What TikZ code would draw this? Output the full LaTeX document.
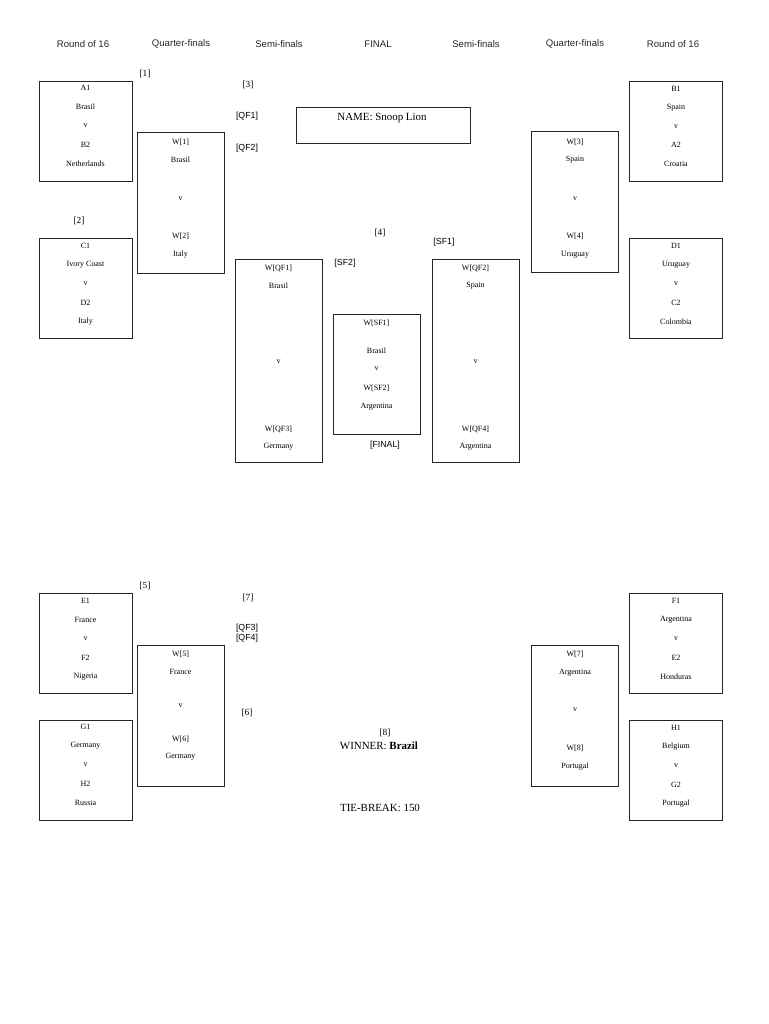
\documentclass[tikz,border=0pt]{standalone}
\usepackage{fontspec}
\setmainfont{Liberation Serif}
\setsansfont{Liberation Sans}
\usetikzlibrary{positioning}

\begin{document}
\begin{tikzpicture}[x=0.75pt, y=-0.75pt,
  r16/.style={rectangle, draw=black!85, line width=0.55pt, minimum width=69.75pt, minimum height=75pt, inner sep=0pt},
  qf/.style={rectangle, draw=black!85, line width=0.55pt, minimum width=65.25pt, minimum height=105.75pt, inner sep=0pt},
  sf/.style={rectangle, draw=black!85, line width=0.55pt, minimum width=65.25pt, minimum height=152.25pt, inner sep=0pt},
  fin/.style={rectangle, draw=black!85, line width=0.55pt, minimum width=65.25pt, minimum height=90pt, inner sep=0pt},
  team/.style={inner sep=0pt, font=\fontsize{6}{6}\selectfont},
  head/.style={inner sep=0pt, text=black!85, font=\sffamily\fontsize{7.2}{8}\selectfont},
  tag/.style={inner sep=0pt, font=\fontsize{7}{8}\selectfont},
  stag/.style={inner sep=0pt, font=\sffamily\fontsize{6.6}{7}\selectfont},
  big/.style={inner sep=0pt, font=\fontsize{8.2}{9}\selectfont}
]
  \useasboundingbox (0,0) rectangle (768,1024);

  % column headers
  \foreach \x/\t [count=\i] in {83/Round of 16, 181/Quarter-finals, 279/Semi-finals, 378/FINAL,
      476/Semi-finals, 575/Quarter-finals, 673/Round of 16}
    \node[head] (h\i) at (\x,44) {\t};

  % round of 16 boxes
  \node[r16] (a1) at (85.5,131) {};
  \node[r16] (c1) at (85.5,288) {};
  \node[r16] (b1) at (676,131) {};
  \node[r16] (d1) at (676,288) {};
  \node[r16] (e1) at (85.5,643) {};
  \node[r16] (g1) at (85.5,770) {};
  \node[r16] (f1) at (676,643) {};
  \node[r16] (h1) at (676,770.5) {};

  \foreach \y/\t [count=\i] in {88/A1, 107/Brasil, 126/v, 145/B2, 164/Netherlands}
    \node[team] (a1-\i) at (85.5,\y) {\t};
  \foreach \y/\t [count=\i] in {246/C1, 265/Ivory Coast, 284/v, 303/D2, 322/Italy}
    \node[team] (c1-\i) at (85.5,\y) {\t};
  \foreach \y/\t [count=\i] in {89/B1, 108/Spain, 127/v, 145/A2, 164/Croatia}
    \node[team] (b1-\i) at (676,\y) {\t};
  \foreach \y/\t [count=\i] in {246/D1, 265/Uruguay, 284/v, 303/C2, 322/Colombia}
    \node[team] (d1-\i) at (676,\y) {\t};
  \foreach \y/\t [count=\i] in {601/E1, 620/France, 639/v, 658/F2, 677/Nigeria}
    \node[team] (e1-\i) at (85.5,\y) {\t};
  \foreach \y/\t [count=\i] in {727/G1, 746/Germany, 765/v, 784/H2, 803/Russia}
    \node[team] (g1-\i) at (85.5,\y) {\t};
  \foreach \y/\t [count=\i] in {601/F1, 620/Argentina, 639/v, 658/E2, 677/Honduras}
    \node[team] (f1-\i) at (676,\y) {\t};
  \foreach \y/\t [count=\i] in {728/H1, 747/Belgium, 766/v, 785/G2, 804/Portugal}
    \node[team] (h1-\i) at (676,\y) {\t};

  % quarter-final boxes
  \node[qf] (qa) at (180.5,202.5) {};
  \node[qf] (qb) at (575,201.5) {};
  \node[qf] (qc) at (180.5,715.5) {};
  \node[qf] (qd) at (575,715.5) {};

  \foreach \y/\t [count=\i] in {142/{W[1]}, 160/Brasil, 199/v, 236/{W[2]}, 255/Italy}
    \node[team] (qa-\i) at (180.5,\y) {\t};
  \foreach \y/\t [count=\i] in {142/{W[3]}, 160/Spain, 199/v, 236/{W[4]}, 255/Uruguay}
    \node[team] (qb-\i) at (575,\y) {\t};
  \foreach \y/\t [count=\i] in {654/{W[5]}, 672/France, 706/v, 739/{W[6]}, 757/Germany}
    \node[team] (qc-\i) at (180.5,\y) {\t};
  \foreach \y/\t [count=\i] in {654/{W[7]}, 673/Argentina, 710/v, 748/{W[8]}, 767/Portugal}
    \node[team] (qd-\i) at (575,\y) {\t};

  % semi-finals and final
  \node[sf] (sa) at (278.5,360.5) {};
  \node[sf] (sb) at (475.5,360.5) {};
  \node[fin] (fn) at (376.5,374) {};

  \foreach \y/\t [count=\i] in {268/{W[QF1]}, 286/Brasil, 362/v, 429/{W[QF3]}, 447/Germany}
    \node[team] (sa-\i) at (278.5,\y) {\t};
  \foreach \y/\t [count=\i] in {268/{W[QF2]}, 286/Spain, 362/v, 429/{W[QF4]}, 447/Argentina}
    \node[team] (sb-\i) at (475.5,\y) {\t};
  \foreach \y/\t [count=\i] in {323/{W[SF1]}, 351/Brasil, 369/v, 388/{W[SF2]}, 407/Argentina}
    \node[team] (fn-\i) at (376.5,\y) {\t};

  % name box
  \node[rectangle, draw=black!85, line width=0.55pt, minimum width=130.5pt, minimum height=27pt] (namebox) at (383,125) {};
  \node[big] (name) at (382,118) {NAME: Snoop Lion};

  % bracket tags
  \foreach \x/\y/\t [count=\i] in {145/74/{[1]}, 79/221/{[2]}, 248/85/{[3]}, 380/233/{[4]},
      145/586/{[5]}, 247/713/{[6]}, 248/598/{[7]}, 385/733/{[8]}}
    \node[tag] (t\i) at (\x,\y) {\t};
  \foreach \x/\y/\t [count=\i] in {247/116/{[QF1]}, 247/148/{[QF2]}, 247/628/{[QF3]}, 247/638/{[QF4]},
      444/242/{[SF1]}, 345/263/{[SF2]}, 385/445/{[FINAL]}}
    \node[stag] (s\i) at (\x,\y) {\t};

  % result
  \node[big] (winner) at (379,746) {WINNER: \textbf{Brazil}};
  \node[big] (tie) at (380,808) {TIE-BREAK: 150};
\end{tikzpicture}
\end{document}
